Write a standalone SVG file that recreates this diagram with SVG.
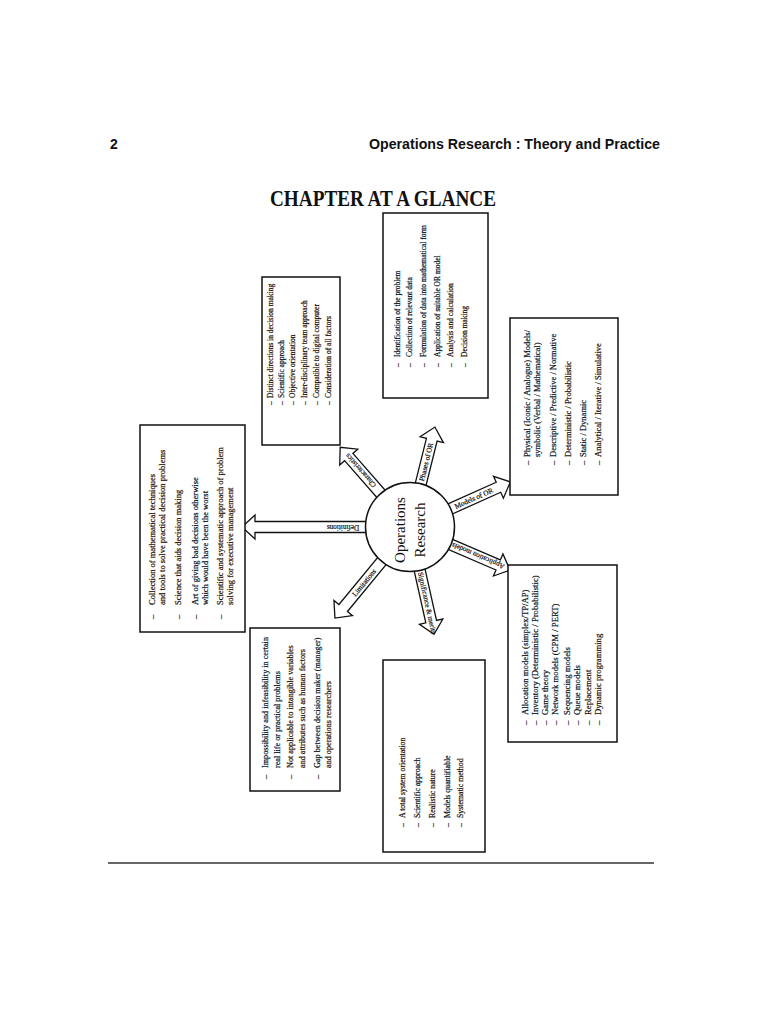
<svg xmlns="http://www.w3.org/2000/svg" width="768" height="1024" viewBox="0 0 768 1024">
<style>
.bx rect{fill:#fff;stroke:#111;stroke-width:1.5}
.bx text{font-family:"Liberation Serif","Times New Roman",serif;fill:#111;stroke:#111;stroke-width:0.2}
.arrow{fill:#fff;stroke:#111;stroke-width:1.3;stroke-linejoin:miter}
.lbl{font-family:"Liberation Serif","Times New Roman",serif;font-size:7.2px;fill:#111;stroke:#111;stroke-width:0.2;text-anchor:middle}
.hdr{font-family:"Liberation Sans",Arial,sans-serif;font-weight:bold;font-size:14px;fill:#111}
</style>
<rect width="768" height="1024" fill="#fff"/>
<g id="header">
<text class="hdr" x="110" y="148.5">2</text>
<text class="hdr" x="660" y="148.5" text-anchor="end" textLength="291" lengthAdjust="spacingAndGlyphs">Operations Research : Theory and Practice</text>
</g>
<g id="title">
<text x="383" y="206" text-anchor="middle" font-family="Liberation Serif, Times New Roman, serif" font-weight="bold" font-size="24" fill="#111" textLength="226" lengthAdjust="spacingAndGlyphs">CHAPTER AT A GLANCE</text>
</g>
<g id="connectors">
<g transform="translate(410,527) rotate(180)"><polygon class="arrow" points="30,-5.5 155,-5.5 155,-12 168,0 155,12 155,5.5 30,5.5"/></g>
<g transform="translate(410,527) rotate(228.8)"><polygon class="arrow" points="30,-5.5 93,-5.5 93,-12 106,0 93,12 93,5.5 30,5.5"/></g>
<g transform="translate(410,527) rotate(-76)"><polygon class="arrow" points="30,-5.5 90,-5.5 90,-12 103,0 90,12 90,5.5 30,5.5"/></g>
<g transform="translate(410,527) rotate(-24.2)"><polygon class="arrow" points="30,-5.5 97,-5.5 97,-12 110,0 97,12 97,5.5 30,5.5"/></g>
<g transform="translate(410,527) rotate(23.3)"><polygon class="arrow" points="30,-5.5 96,-5.5 96,-12 109,0 96,12 96,5.5 30,5.5"/></g>
<g transform="translate(410,527) rotate(77.4)"><polygon class="arrow" points="30,-5.5 97,-5.5 97,-12 110,0 97,12 97,5.5 30,5.5"/></g>
<g transform="translate(410,527) rotate(129.5)"><polygon class="arrow" points="30,-5.5 105,-5.5 105,-12 118,0 105,12 105,5.5 30,5.5"/></g>
<text class="lbl" transform="translate(343,527) rotate(180)" dy="2.4">Definitions</text>
<text class="lbl" transform="translate(360.6,470.6) rotate(228.8)" dy="2.4">Characteristics</text>
<text class="lbl" transform="translate(426.2,462) rotate(-76)" dy="2.4">Phases of OR</text>
<text class="lbl" transform="translate(473.8,498.3) rotate(-24.2)" dy="2.4">Models of OR</text>
<text class="lbl" transform="translate(478,556) rotate(203.3)" dy="2.4">Application models</text>
<text class="lbl" transform="translate(427,603) rotate(77.4)" dy="2.2" font-size="6.5">Significance &amp; merits</text>
<text class="lbl" transform="translate(364.2,582.6) rotate(-50.5)" dy="2.4">Limitations</text>
</g>
<g id="operations-research">
<circle cx="410" cy="527" r="44.5" fill="#fff" stroke="#111" stroke-width="1.5"/>
<text transform="translate(405,530) rotate(-90)" text-anchor="middle" font-family="Liberation Serif, Times New Roman, serif" font-size="15" fill="#111">Operations</text>
<text transform="translate(425,530) rotate(-90)" text-anchor="middle" font-family="Liberation Serif, Times New Roman, serif" font-size="15" fill="#111">Research</text>
</g>
<g id="definitions" class="bx" transform="translate(140,632) rotate(-90)" font-size="8.5">
<rect x="0" y="0" width="207" height="105"/>
<text x="13" y="14.5">–</text><text x="27" y="14.5">Collection of mathematical techniques</text>
<text x="27" y="24.5">and tools to solve practical decision problems</text>
<text x="13" y="40.5">–</text><text x="27" y="40.5">Science that aids decision making</text>
<text x="13" y="57.5">–</text><text x="27" y="57.5">Art of giving bad decisions otherwise</text>
<text x="27" y="67.5">which would have been the worst</text>
<text x="13" y="82.5">–</text><text x="27" y="82.5">Scientific and systematic approach of problem</text>
<text x="27" y="92.5">solving for executive management</text>
</g>
<g id="characteristics" class="bx" transform="translate(262,445) rotate(-90)" font-size="7.5">
<rect x="0" y="0" width="168" height="78"/>
<text x="40" y="11">–</text><text x="47" y="11">Distinct directions in decision making</text>
<text x="40" y="22">–</text><text x="47" y="22">Scientific approach</text>
<text x="40" y="32.5">–</text><text x="47" y="32.5">Objective orientation</text>
<text x="40" y="45">–</text><text x="47" y="45">Inter-disciplinary team approach</text>
<text x="40" y="57">–</text><text x="47" y="57">Compatible to digital computer</text>
<text x="40" y="68.5">–</text><text x="47" y="68.5">Consideration of all factors</text>
</g>
<g id="phases" class="bx" transform="translate(383,398) rotate(-90)" font-size="7.5">
<rect x="0" y="0" width="185" height="105"/>
<text x="31" y="16.5">–</text><text x="41" y="16.5">Identification of the problem</text>
<text x="31" y="28.5">–</text><text x="41" y="28.5">Collection of relevant data</text>
<text x="31" y="42.5">–</text><text x="41" y="42.5">Formulation of data into mathematical form</text>
<text x="31" y="56.5">–</text><text x="41" y="56.5">Application of suitable OR model</text>
<text x="31" y="69.5">–</text><text x="41" y="69.5">Analysis and calculation</text>
<text x="31" y="83.5">–</text><text x="41" y="83.5">Decision making</text>
</g>
<g id="models" class="bx" transform="translate(510,495) rotate(-90)" font-size="8.5">
<rect x="0" y="0" width="177" height="108"/>
<text x="30" y="19.5">–</text><text x="38" y="19.5">Physical (Iconic / Analogue) Models/</text>
<text x="38" y="29.5">symbolic (Verbal / Mathematical)</text>
<text x="30" y="45.5">–</text><text x="38" y="45.5">Descriptive / Predictive / Normative</text>
<text x="30" y="60.5">–</text><text x="38" y="60.5">Deterministic / Probabilistic</text>
<text x="30" y="75.5">–</text><text x="38" y="75.5">Static / Dynamic</text>
<text x="30" y="90.5">–</text><text x="38" y="90.5">Analytical / Iterative / Simulative</text>
</g>
<g id="applications" class="bx" transform="translate(508,742) rotate(-90)" font-size="8.7">
<rect x="0" y="0" width="177" height="109"/>
<text x="17" y="19.5">–</text><text x="27" y="19.5">Allocation models (simplex/TP/AP)</text>
<text x="17" y="29.5">–</text><text x="27" y="29.5">Inventory (Deterministic / Probabilistic)</text>
<text x="17" y="39.5">–</text><text x="27" y="39.5">Game theory</text>
<text x="17" y="49.5">–</text><text x="27" y="49.5">Network models (CPM / PERT)</text>
<text x="17" y="61.5">–</text><text x="27" y="61.5">Sequencing models</text>
<text x="17" y="71.5">–</text><text x="27" y="71.5">Queue models</text>
<text x="17" y="82.5">–</text><text x="27" y="82.5">Replacement</text>
<text x="17" y="92.5">–</text><text x="27" y="92.5">Dynamic programming</text>
</g>
<g id="significance" class="bx" transform="translate(383,852) rotate(-90)" font-size="7.8">
<rect x="0" y="0" width="192" height="102"/>
<text x="25" y="21.5">–</text><text x="34" y="21.5">A total system orientation</text>
<text x="25" y="36.5">–</text><text x="34" y="36.5">Scientific approach</text>
<text x="25" y="51.5">–</text><text x="34" y="51.5">Realistic nature</text>
<text x="25" y="66.5">–</text><text x="34" y="66.5">Models quantifiable</text>
<text x="25" y="79.5">–</text><text x="34" y="79.5">Systematic method</text>
</g>
<g id="limitations" class="bx" transform="translate(250,791) rotate(-90)" font-size="8.2">
<rect x="0" y="0" width="163" height="90"/>
<text x="12" y="17.5">–</text><text x="23" y="17.5">Impossibility and infeasibility in certain</text>
<text x="23" y="29.5">real life or practical problems</text>
<text x="12" y="42.5">–</text><text x="23" y="42.5">Not applicable to intangible variables</text>
<text x="23" y="54.5">and attributes such as human factors</text>
<text x="12" y="69.5">–</text><text x="23" y="69.5">Gap between decision maker (manager)</text>
<text x="23" y="80.5">and operations researchers</text>
</g>
<g id="footer">
<line x1="108" y1="863" x2="654" y2="863" stroke="#333" stroke-width="1.5"/>
</g>
</svg>
